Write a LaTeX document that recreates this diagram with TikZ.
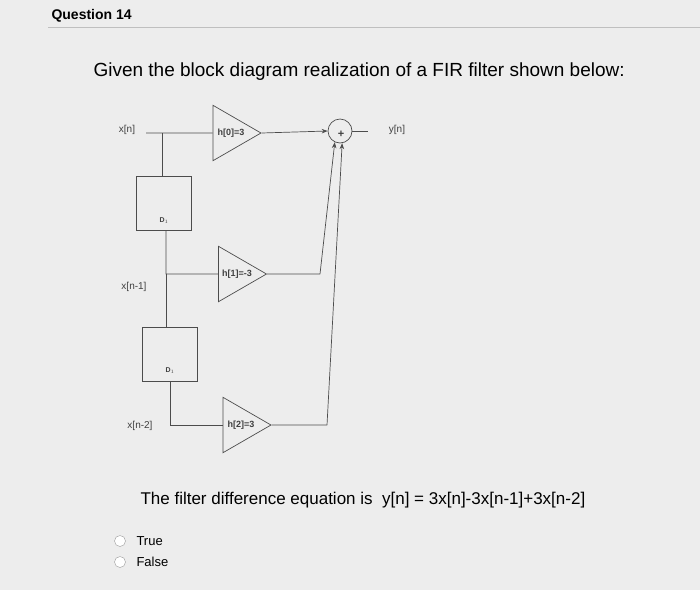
\documentclass[tikz,border=0pt]{standalone}
\usepackage{fontspec}
\setmainfont{Liberation Sans}
\usetikzlibrary{arrows.meta,shapes.geometric}
\begin{document}
\begin{tikzpicture}[x=1pt,y=-1pt,
  ln/.style={draw=black!70,line width=0.7pt},
  lbl/.style={font=\fontsize{10}{12}\selectfont,text=black!75,inner sep=0},
  gain/.style={draw=black!70,line width=0.7pt,isosceles triangle,isosceles triangle apex angle=60,minimum height=48pt,inner sep=0,font=\fontsize{9}{10}\selectfont\bfseries,text=black!75},
  dbox/.style={draw=black!70,line width=0.7pt,minimum width=55pt,minimum height=54pt,inner sep=0},
  arr/.style={ln,-{Stealth[length=6pt]}}]
\fill[black!7] (0,0) rectangle (700,590);
\useasboundingbox (0,0) rectangle (700,590);
\node[anchor=west,font=\fontsize{14}{16}\selectfont\bfseries] (q) at (48,16) {Question 14};
\draw[black!25] (48,27) -- (700,27);
\node[anchor=west,font=\fontsize{19}{22}\selectfont] (g) at (90,72) {Given the block diagram realization of a FIR filter shown below:};
% nodes
\node[lbl] (xn) at (127,130) {x[n]};
\node[gain] (h0) at (231,133) {h[0]=3};
\node[draw=black!70,line width=0.7pt,circle,minimum size=24pt,inner sep=0] (sum) at (340,131) {};
\node[font=\fontsize{11}{12}\selectfont\bfseries,text=black!75] at (341,134) {+};
\node[lbl] (yn) at (397,130) {y[n]};
\coordinate (ye) at (368,131);
\node[dbox] (d1) at (164,203) {};
\node[lbl,font=\fontsize{7}{8}\selectfont\bfseries] (d1l) at (164,221) {D$_1$};
\node[gain] (h1) at (237,274) {h[1]=-3};
\node[lbl] (xn1) at (134,287) {x[n-1]};
\node[dbox] (d2) at (170,354) {};
\node[lbl,font=\fontsize{7}{8}\selectfont\bfseries] (d2l) at (170,371) {D$_1$};
\node[gain] (h2) at (241,425) {h[2]=3};
\node[lbl] (xn2) at (140,426) {x[n-2]};
\coordinate (s0) at (146,133);
\coordinate (j0) at (162,133);
\coordinate (j1) at (166,274);
\coordinate (c1) at (320,274);
\coordinate (c2) at (327,425);
% wires
\draw[ln] (s0) -- (h0.west);
\draw[arr] (h0.east) -- (sum.west);
\draw[ln] (sum.east) -- (ye);
\draw[ln] (j0) -- (j0 |- d1.north);
\draw[ln] (j1 |- d1.south) -- (j1) -- (h1.west);
\draw[ln] (j1) -- (j1 |- d2.north);
\draw[ln] (d2.south) -- (d2.south |- h2.west) -- (h2.west);
\draw[ln] (h1.east) -- (c1);
\draw[arr] (c1) -- (sum.-115);
\draw[ln] (h2.east) -- (c2);
\draw[arr] (c2) -- (sum.-80);
% bottom text
\node[anchor=west,font=\fontsize{17}{20}\selectfont] (eq) at (137,500) {The filter difference equation is\ \ y[n] =\ 3x[n]-3x[n-1]+3x[n-2]};
\node[draw=black!40,circle,minimum size=11pt,inner sep=0,fill=white] (r1) at (120,541) {};
\node[anchor=west,font=\fontsize{13}{15}\selectfont] (t) at (133,541) {True};
\node[draw=black!40,circle,minimum size=11pt,inner sep=0,fill=white] (r2) at (120,562) {};
\node[anchor=west,font=\fontsize{13}{15}\selectfont] (f) at (133,562) {False};
\end{tikzpicture}
\end{document}
